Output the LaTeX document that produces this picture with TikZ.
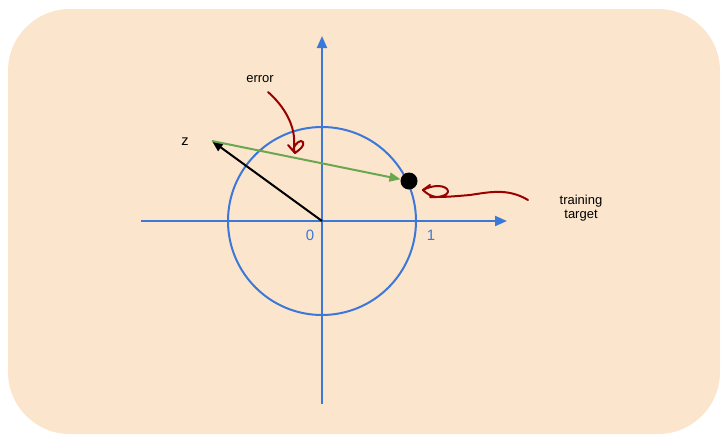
\documentclass[tikz,border=0pt]{standalone}
\usepackage{fontspec}
\setmainfont{Liberation Sans}
\usetikzlibrary{arrows.meta}
\definecolor{bgpeach}{HTML}{FCE5CD}
\definecolor{axisblue}{HTML}{3C78D8}
\definecolor{errgreen}{HTML}{6AA84F}
\definecolor{curlred}{HTML}{990000}
\begin{document}
\begin{tikzpicture}[x=1pt,y=-1pt,
  axisline/.style={draw=axisblue, line width=2pt, -{Triangle[length=12pt,width=10pt]}},
  vecblack/.style={draw=black, line width=2pt, -{Triangle[length=11pt,width=9pt]}},
  vecgreen/.style={draw=errgreen, line width=2pt, -{Triangle[length=11pt,width=9pt]}},
  curl/.style={draw=curlred, line width=2pt, line cap=round, line join=round},
  lbl/.style={font=\fontsize{13}{15}\selectfont, inner sep=0pt},
  num/.style={font=\fontsize{15}{17}\selectfont, text=axisblue, inner sep=0pt}]
\useasboundingbox (0,0) rectangle (728,442);
\fill[bgpeach, rounded corners=62pt] (8,9) rectangle (720,434);
% axes
\coordinate (O) at (322,221);
\coordinate (xs) at (141,221);
\coordinate (xe) at (507,221);
\coordinate (ys) at (322,404);
\coordinate (ye) at (322,36);
\draw[axisline] (xs) -- (xe);
\draw[axisline] (ys) -- (ye);
\draw[axisblue, line width=2pt] (O) circle[radius=94pt];
% vectors
\coordinate (z) at (212,141);
\node[circle, fill=black, minimum size=17pt, inner sep=0pt] (dot) at (409,181) {};
\draw[vecblack] (O) -- (z);
\draw[vecgreen] (z) -- (dot);
% labels
\node[lbl, font=\fontsize{14.5}{16}\selectfont] (zlab) at (185,142) {z};
\node[lbl] (errlab) at (260,79) {error};
\node[num] (zero) at (310,235) {0};
\node[num] (one) at (431,235) {1};
\node[lbl, align=center] (tt) at (581,208) {training\\[-1pt]target};
% red curly arrows
\coordinate (e0) at (268,92);
\coordinate (e1) at (295,153);
\draw[curl] (e0) .. controls (284,106) and (296,126) .. (294,146)
  .. controls (294,149) and (294,151) .. (e1)
  .. controls (299,150) and (305,146) .. (303,142)
  .. controls (301,139) and (295,143) .. (293,150);
\draw[curl] (e1) -- (288,145);
\coordinate (t0) at (528,200);
\coordinate (t1) at (423,190);
\draw[curl] (t0) .. controls (508,188) and (490,192) .. (470,195)
  .. controls (458,196) and (448,197) .. (436,197)
  .. controls (430,196) and (426,193) .. (t1)
  .. controls (430,186) and (442,184) .. (447,189)
  .. controls (451,194) and (442,198) .. (430,197);
\draw[curl] (t1) -- (430,185);
\end{tikzpicture}
\end{document}
